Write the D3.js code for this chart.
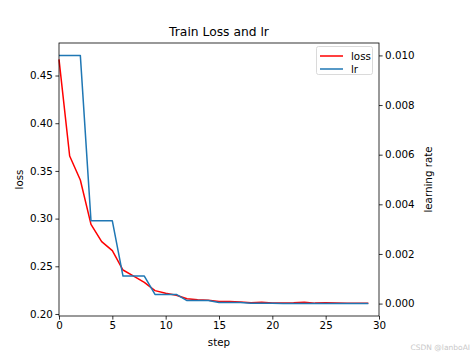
<!DOCTYPE html>
<html><head><meta charset="utf-8">
<script src="https://cdn.jsdelivr.net/npm/d3@7"></script>
<style>body{margin:0;background:#fff}svg{display:block}text{font-family:"DejaVu Sans",sans-serif}</style>
</head><body>
<script>
const steps = d3.range(0, 30);
const lossValues = [0.467,0.3656,0.3405,0.294,0.2758,0.2664,0.2461,0.2398,0.2332,0.2245,0.2217,0.2196,0.2160,0.2150,0.2143,0.2130,0.2130,0.2125,0.2118,0.2122,0.2115,0.2115,0.2118,0.2124,0.2114,0.2118,0.2116,0.2112,0.2113,0.2113];
const lrValues = [0.01,0.01,0.01,0.003333,0.003333,0.003333,0.001111,0.001111,0.001111,0.00037,0.00037,0.00037,0.000123,0.000123,0.000123,0.000041,0.000041,0.000041,0.0000137,0.0000137,0.0000137,0.0000046,0.0000046,0.0000046,0.0000015,0.0000015,0.0000015,0.0000005,0.0000005,0.0000005];
const xTicks = [0,5,10,15,20,25,30];
const lossTicks = [0.20,0.25,0.30,0.35,0.40,0.45];
const lrTicks = [0.000,0.002,0.004,0.006,0.008,0.010];

const W=474,H=355, L=59,R=379,T=43,B=316;
const svg=d3.select("body").append("svg").attr("width",W).attr("height",H);
const x=d3.scaleLinear().domain([0,30]).range([L,R]);
const yL=d3.scaleLinear().domain([0.1979,0.4841]).range([B,T]);
const yR=d3.scaleLinear().domain([-0.0005,0.0105]).range([B,T]);
const fs=10.3;

const line=(ys,vals)=>d3.line().x((d,i)=>x(steps[i])).y(d=>ys(d))(vals);
svg.append("path").attr("d",line(yL,lossValues)).attr("fill","none").attr("stroke","#ff0000").attr("stroke-width",1.5).attr("stroke-linejoin","round");
svg.append("path").attr("d",line(yR,lrValues)).attr("fill","none").attr("stroke","#1f77b4").attr("stroke-width",1.5).attr("stroke-linejoin","round");

function styleAxis(g){g.selectAll("text").attr("font-size",fs).attr("fill","#000").attr("font-family","DejaVu Sans");g.selectAll("line").attr("stroke","#000").attr("stroke-width",0.8);g.select(".domain").remove();}
svg.append("g").attr("transform",`translate(0,${B})`).call(d3.axisBottom(x).tickValues(xTicks).tickSize(3.6).tickPadding(2.5).tickFormat(d3.format("d"))).call(styleAxis);
svg.append("g").attr("transform",`translate(${L},0)`).call(d3.axisLeft(yL).tickValues(lossTicks).tickSize(3.6).tickPadding(2.5).tickFormat(d3.format(".2f"))).call(styleAxis);
svg.append("g").attr("transform",`translate(${R},0)`).call(d3.axisRight(yR).tickValues(lrTicks).tickSize(3.6).tickPadding(2.5).tickFormat(d3.format(".3f"))).call(styleAxis);

svg.append("rect").attr("x",L).attr("y",T).attr("width",R-L).attr("height",B-T).attr("fill","none").attr("stroke","#000").attr("stroke-width",0.8);

svg.append("text").attr("x",(L+R)/2).attr("y",36).attr("text-anchor","middle").attr("font-size",12.3).text("Train Loss and lr");
svg.append("text").attr("x",(L+R)/2).attr("y",346).attr("text-anchor","middle").attr("font-size",fs).text("step");
svg.append("text").attr("transform",`translate(23,${(T+B)/2}) rotate(-90)`).attr("text-anchor","middle").attr("font-size",fs).text("loss");
svg.append("text").attr("transform",`translate(432,${(T+B)/2}) rotate(-90)`).attr("text-anchor","middle").attr("font-size",fs).text("learning rate");

const lg=svg.append("g");
lg.append("rect").attr("x",316.5).attr("y",46.5).attr("width",56).attr("height",28).attr("rx",2).attr("fill","#fff").attr("fill-opacity",0.8).attr("stroke","#d0d0d0").attr("stroke-width",0.8);
const legendItems=[{name:"loss",color:"#ff0000"},{name:"lr",color:"#1f77b4"}];
legendItems.forEach((d,i)=>{const yy=56+i*13;
 lg.append("line").attr("x1",320).attr("x2",343).attr("y1",yy).attr("y2",yy).attr("stroke",d.color).attr("stroke-width",1.5);
 lg.append("text").attr("x",351).attr("y",yy+3.7).attr("font-size",fs).text(d.name);});

svg.append("text").attr("x",470).attr("y",350).attr("text-anchor","end").attr("font-size",7.5).attr("fill","#c8c8c8").text("CSDN @lanboAI");
</script>
</body></html>
